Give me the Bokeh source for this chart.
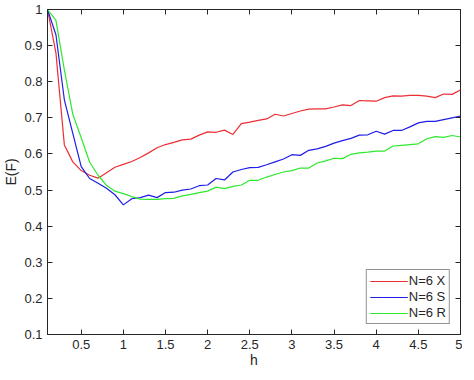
from bokeh.plotting import figure
from bokeh.models import LinearAxis, Legend, LegendItem, FixedTicker, Range1d, CustomLabelingPolicy
from bokeh.embed import file_html
from bokeh.resources import INLINE

h = [0.1, 0.2, 0.3, 0.4, 0.5, 0.6, 0.7, 0.8, 0.9, 1.0,
     1.1, 1.2, 1.3, 1.4, 1.5, 1.6, 1.7, 1.8, 1.9, 2.0,
     2.1, 2.2, 2.3, 2.4, 2.5, 2.6, 2.7, 2.8, 2.9, 3.0,
     3.1, 3.2, 3.3, 3.4, 3.5, 3.6, 3.7, 3.8, 3.9, 4.0,
     4.1, 4.2, 4.3, 4.4, 4.5, 4.6, 4.7, 4.8, 4.9, 5.0]

e_x = [1.0, 0.88, 0.625, 0.578, 0.554, 0.541, 0.533, 0.548, 0.563, 0.571,
       0.579, 0.59, 0.603, 0.617, 0.626, 0.632, 0.639, 0.641, 0.652, 0.661,
       0.66, 0.666, 0.654, 0.684, 0.688, 0.693, 0.697, 0.71, 0.705, 0.712,
       0.719, 0.724, 0.725, 0.725, 0.73, 0.736, 0.734, 0.748, 0.747, 0.746,
       0.756, 0.761, 0.76, 0.762, 0.762, 0.76, 0.756, 0.766, 0.765, 0.777]

e_s = [1.0, 0.93, 0.75, 0.657, 0.565, 0.532, 0.519, 0.505, 0.487, 0.459,
       0.476, 0.479, 0.486, 0.479, 0.493, 0.494, 0.5, 0.503, 0.512, 0.514,
       0.532, 0.528, 0.55, 0.557, 0.562, 0.563, 0.57, 0.578, 0.586, 0.598,
       0.596, 0.61, 0.614, 0.621, 0.63, 0.637, 0.643, 0.652, 0.653, 0.663,
       0.655, 0.665, 0.665, 0.675, 0.686, 0.69, 0.69, 0.695, 0.7, 0.705]

e_r = [1.0, 0.97, 0.833, 0.71, 0.645, 0.577, 0.541, 0.513, 0.497, 0.49,
       0.482, 0.475, 0.474, 0.474, 0.476, 0.477, 0.484, 0.488, 0.493, 0.497,
       0.508, 0.504, 0.51, 0.514, 0.527, 0.527, 0.536, 0.543, 0.55, 0.554,
       0.561, 0.561, 0.575, 0.581, 0.588, 0.587, 0.599, 0.603, 0.605, 0.608,
       0.608, 0.622, 0.624, 0.626, 0.628, 0.642, 0.648, 0.646, 0.651, 0.647]

labels = ["N=6 X", "N=6 S", "N=6 R"]
colors = ["#ec2e34", "#1e1ee6", "#2ee82e"]

x_ticks = [0.5, 1, 1.5, 2, 2.5, 3, 3.5, 4, 4.5, 5]
y_ticks = [0.1, 0.2, 0.3, 0.4, 0.5, 0.6, 0.7, 0.8, 0.9, 1.0]

FONT = "Liberation Sans"
AX = "#262626"

p = figure(width=462, height=370, output_backend="svg", toolbar_location=None,
           x_range=Range1d(0.1, 5), y_range=Range1d(0.1, 1.0),
           x_axis_label="h", y_axis_label="E(F)")
p.min_border_left = 0
p.min_border_right = 2
p.min_border_top = 9
p.min_border_bottom = 0
p.xgrid.visible = False
p.ygrid.visible = False
p.outline_line_color = AX
p.outline_line_width = 1
p.background_fill_color = "white"
p.border_fill_color = "white"

renderers = []
for ys, c in zip([e_x, e_s, e_r], colors):
    r = p.line(h, ys, line_color=c, line_width=1.2)
    renderers.append(r)

no_labels = CustomLabelingPolicy(code="""
try { for (let i = 0; i < indices.size; i++) indices.unset(i); } catch (e) {}
return indices;
""")

def style(ax, ticks, show_labels=True):
    ax.ticker = FixedTicker(ticks=ticks)
    ax.axis_line_color = AX
    ax.major_tick_line_color = AX
    ax.major_tick_in = 5
    ax.major_tick_out = 0
    ax.minor_tick_line_color = None
    ax.major_label_text_font = FONT
    ax.major_label_text_font_size = "13px"
    ax.major_label_text_color = AX
    ax.axis_label_text_font = FONT
    ax.axis_label_text_font_size = "14px"
    ax.axis_label_text_font_style = "normal"
    ax.axis_label_text_color = AX
    if not show_labels:
        ax.major_label_overrides = {t: "" for t in ticks}
        ax.major_label_policy = no_labels
        ax.major_label_standoff = 0

for ax in p.xaxis:
    style(ax, x_ticks)
    ax.major_label_standoff = 5
    ax.axis_label_standoff = 0
for ax in p.yaxis:
    style(ax, y_ticks)
    ax.major_label_overrides = {1.0: "1"}
    ax.major_label_standoff = 5
    ax.axis_label_standoff = 2

top = LinearAxis()
style(top, x_ticks, False)
p.add_layout(top, "above")
right = LinearAxis()
style(right, y_ticks, False)
p.add_layout(right, "right")

legend = Legend(items=[LegendItem(label=l, renderers=[r]) for l, r in zip(labels, renderers)],
                location="bottom_right")
legend.label_text_font = FONT
legend.label_text_font_size = "13px"
legend.label_text_color = AX
legend.border_line_color = AX
legend.border_line_width = 1
legend.glyph_width = 38
legend.glyph_height = 14
legend.label_height = 14
legend.label_width = 10
legend.label_standoff = 1
legend.spacing = 1
legend.padding = 3
legend.margin = 10
p.add_layout(legend)

open("out.html", "w").write(file_html(p, INLINE))
